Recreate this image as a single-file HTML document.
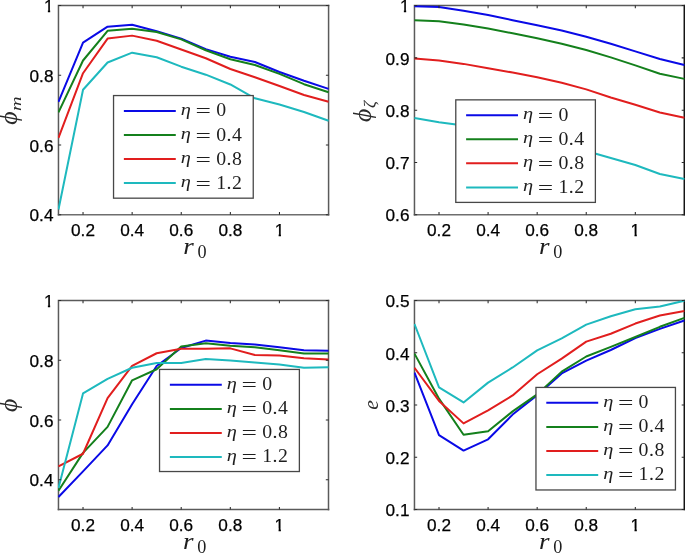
<!DOCTYPE html><html><head><meta charset="utf-8"><style>html,body{margin:0;padding:0;background:#fff;overflow:hidden}svg{display:block;filter:blur(0.35px)}.tk{font-family:"Liberation Sans",Arial,Helvetica,sans-serif;font-size:17.2px;fill:#000;stroke:#000;stroke-width:0.25px}.sf{font-family:"Liberation Serif","DejaVu Serif",serif;fill:#1e1e1e}.yl{fill:#2a2a2a}</style></head><body>
<svg width="685" height="553" viewBox="0 0 685 553">
<rect width="685" height="553" fill="#fff"/>
<defs>
<clipPath id="c1"><rect x="57.97" y="4.58" width="271.11" height="211.17"/></clipPath>
<clipPath id="c2"><rect x="413.97" y="4.58" width="270.93" height="211.17"/></clipPath>
<clipPath id="c3"><rect x="57.97" y="299.58" width="271.03" height="211"/></clipPath>
<clipPath id="c4"><rect x="413.97" y="299.58" width="270.93" height="211"/></clipPath>
</defs>
<g>
<path d="M58.47 5.58H328.58M58.47 5.58V214.75" stroke="#5a5a5a" stroke-width="1.5" fill="none" stroke-linecap="square"/>
<path d="M328.58 5.58V214.75" stroke="#5a5a5a" stroke-width="1.5" fill="none" stroke-linecap="square"/>
<path d="M58.47 214.75H328.58" stroke="#6e6e6e" stroke-width="1.5" fill="none" stroke-linecap="square"/>
<g clip-path="url(#c1)" fill="none" stroke-width="2" stroke-linejoin="round" stroke-linecap="butt">
<polyline stroke="#0a0ae6" points="58.47,101.9 83.03,42.71 107.58,26.71 132.14,24.75 156.69,31.27 181.25,38.59 205.8,49.16 230.36,56.79 254.91,61.99 279.47,71.99 304.02,80.78 328.58,88.9"/>
<polyline stroke="#14801c" points="58.47,112.33 83.03,60.49 107.58,30.78 132.14,28.8 156.69,32.07 181.25,39.4 205.8,50.27 230.36,59.27 254.91,64.98 279.47,73.91 304.02,84.19 328.58,92.28"/>
<polyline stroke="#e11e1e" points="58.47,137.78 83.03,73.21 107.58,38.59 132.14,35.63 156.69,40.69 181.25,49.51 205.8,58.29 230.36,69.03 254.91,77.19 279.47,86.04 304.02,95 328.58,101.8"/>
<polyline stroke="#1eb9be" points="58.47,209.52 83.03,89.77 107.58,62.47 132.14,52.68 156.69,57.28 181.25,66.69 205.8,74.68 230.36,84.47 254.91,98.31 279.47,104.48 304.02,111.98 328.58,120.8"/>
</g>
<path d="M83.03 214.75v-2.7M83.03 5.58v2.7M132.14 214.75v-2.7M132.14 5.58v2.7M181.25 214.75v-2.7M181.25 5.58v2.7M230.36 214.75v-2.7M230.36 5.58v2.7M279.47 214.75v-2.7M279.47 5.58v2.7M58.47 214.75h2.7M328.58 214.75h-2.7M58.47 145.03h2.7M328.58 145.03h-2.7M58.47 75.3h2.7M328.58 75.3h-2.7M58.47 5.58h2.7M328.58 5.58h-2.7" stroke="#2a2a2a" stroke-width="1.05" fill="none"/>
<text class="tk" x="83.03" y="236.05" text-anchor="middle">0.2</text>
<text class="tk" x="132.14" y="236.05" text-anchor="middle">0.4</text>
<text class="tk" x="181.25" y="236.05" text-anchor="middle">0.6</text>
<text class="tk" x="230.36" y="236.05" text-anchor="middle">0.8</text>
<text class="tk" x="279.47" y="236.05" text-anchor="middle" clip-path="url(#k0)">1</text>
<text class="tk" x="53.47" y="221.45" text-anchor="end">0.4</text>
<text class="tk" x="53.47" y="151.73" text-anchor="end">0.6</text>
<text class="tk" x="53.47" y="82" text-anchor="end">0.8</text>
<text class="tk" x="53.47" y="12.28" text-anchor="end" clip-path="url(#k1)">1</text>
<g class="sf">
<text transform="translate(183.14,254.15) scale(1.15,1)" font-size="23.5" font-style="italic">r</text>
<text transform="translate(197.4,258.25)" font-size="18.2">0</text>
<rect x="113.54" y="95.56" width="139.7" height="102.62" fill="#fff" stroke="#474747" stroke-width="1.3"/>
<line x1="123.87" y1="110.96" x2="175.78" y2="110.96" stroke="#0a0ae6" stroke-width="2"/>
<text transform="translate(180.72,114.96) scale(1.2,1)" font-size="17" font-style="italic">&#951;</text>
<text transform="translate(195.47,117.46) scale(1.44,1)" font-size="19">=</text>
<text transform="translate(216.15,116.46)" font-size="19.8" letter-spacing="0.5">0</text>
<line x1="123.87" y1="135.01" x2="175.78" y2="135.01" stroke="#14801c" stroke-width="2"/>
<text transform="translate(180.72,139.01) scale(1.2,1)" font-size="17" font-style="italic">&#951;</text>
<text transform="translate(195.47,141.51) scale(1.44,1)" font-size="19">=</text>
<text transform="translate(216.15,140.51)" font-size="19.8" letter-spacing="0.5">0.4</text>
<line x1="123.87" y1="159.06" x2="175.78" y2="159.06" stroke="#e11e1e" stroke-width="2"/>
<text transform="translate(180.72,163.06) scale(1.2,1)" font-size="17" font-style="italic">&#951;</text>
<text transform="translate(195.47,165.56) scale(1.44,1)" font-size="19">=</text>
<text transform="translate(216.15,164.56)" font-size="19.8" letter-spacing="0.5">0.8</text>
<line x1="123.87" y1="183.11" x2="175.78" y2="183.11" stroke="#1eb9be" stroke-width="2"/>
<text transform="translate(180.72,187.11) scale(1.2,1)" font-size="17" font-style="italic">&#951;</text>
<text transform="translate(195.47,189.61) scale(1.44,1)" font-size="19">=</text>
<text transform="translate(216.15,188.61)" font-size="19.8" letter-spacing="0.5">1.2</text>
</g>
</g>
<g>
<path d="M414.47 5.58H684.4M414.47 5.58V214.75" stroke="#5a5a5a" stroke-width="1.5" fill="none" stroke-linecap="square"/>
<path d="M684.4 5.58V214.75" stroke="#5a5a5a" stroke-width="1.5" fill="none" stroke-linecap="square"/>
<path d="M414.47 214.75H684.4" stroke="#6e6e6e" stroke-width="1.5" fill="none" stroke-linecap="square"/>
<rect x="683.7" y="5.08" width="1.3" height="210.17" fill="#141414"/>
<g clip-path="url(#c2)" fill="none" stroke-width="2" stroke-linejoin="round" stroke-linecap="butt">
<polyline stroke="#0a0ae6" points="414.47,6.21 439.01,6.89 463.55,10.81 488.09,14.99 512.63,20.22 537.17,25.19 561.7,30.47 586.24,36.69 610.78,43.75 635.32,51.34 659.86,58.92 684.4,64.98"/>
<polyline stroke="#14801c" points="414.47,20.22 439.01,21.27 463.55,24.41 488.09,28.59 512.63,33.3 537.17,38.21 561.7,43.75 586.24,50.03 610.78,57.35 635.32,65.4 659.86,73.72 684.4,78.89"/>
<polyline stroke="#e11e1e" points="414.47,58.4 439.01,60.49 463.55,63.89 488.09,68.33 512.63,72.51 537.17,77.22 561.7,82.71 586.24,89.4 610.78,97.51 635.32,104.83 659.86,112.52 684.4,117.8"/>
<polyline stroke="#1eb9be" points="414.47,118.11 439.01,122.19 463.55,125.59 488.09,130.04 512.63,134.22 537.17,138.93 561.7,144.42 586.24,150.95 610.78,158.01 635.32,165.02 659.86,173.96 684.4,179.09"/>
</g>
<path d="M439.01 214.75v-2.7M439.01 5.58v2.7M488.09 214.75v-2.7M488.09 5.58v2.7M537.17 214.75v-2.7M537.17 5.58v2.7M586.24 214.75v-2.7M586.24 5.58v2.7M635.32 214.75v-2.7M635.32 5.58v2.7M414.47 214.75h2.7M684.4 214.75h-2.7M414.47 162.46h2.7M684.4 162.46h-2.7M414.47 110.16h2.7M684.4 110.16h-2.7M414.47 57.87h2.7M684.4 57.87h-2.7M414.47 5.58h2.7M684.4 5.58h-2.7" stroke="#2a2a2a" stroke-width="1.05" fill="none"/>
<text class="tk" x="439.01" y="236.05" text-anchor="middle">0.2</text>
<text class="tk" x="488.09" y="236.05" text-anchor="middle">0.4</text>
<text class="tk" x="537.17" y="236.05" text-anchor="middle">0.6</text>
<text class="tk" x="586.24" y="236.05" text-anchor="middle">0.8</text>
<text class="tk" x="635.32" y="236.05" text-anchor="middle" clip-path="url(#k2)">1</text>
<text class="tk" x="409.47" y="221.45" text-anchor="end">0.6</text>
<text class="tk" x="409.47" y="169.16" text-anchor="end">0.7</text>
<text class="tk" x="409.47" y="116.86" text-anchor="end">0.8</text>
<text class="tk" x="409.47" y="64.57" text-anchor="end">0.9</text>
<text class="tk" x="409.47" y="12.28" text-anchor="end" clip-path="url(#k3)">1</text>
<g class="sf">
<text transform="translate(539.05,254.15) scale(1.15,1)" font-size="23.5" font-style="italic">r</text>
<text transform="translate(553.31,258.25)" font-size="18.2">0</text>
<rect x="455.78" y="99.86" width="139.6" height="102.54" fill="#fff" stroke="#474747" stroke-width="1.3"/>
<line x1="466.11" y1="115.26" x2="518.02" y2="115.26" stroke="#0a0ae6" stroke-width="2"/>
<text transform="translate(522.96,119.26) scale(1.2,1)" font-size="17" font-style="italic">&#951;</text>
<text transform="translate(537.71,121.76) scale(1.44,1)" font-size="19">=</text>
<text transform="translate(558.39,120.76)" font-size="19.8" letter-spacing="0.5">0</text>
<line x1="466.11" y1="139.31" x2="518.02" y2="139.31" stroke="#14801c" stroke-width="2"/>
<text transform="translate(522.96,143.31) scale(1.2,1)" font-size="17" font-style="italic">&#951;</text>
<text transform="translate(537.71,145.81) scale(1.44,1)" font-size="19">=</text>
<text transform="translate(558.39,144.81)" font-size="19.8" letter-spacing="0.5">0.4</text>
<line x1="466.11" y1="163.36" x2="518.02" y2="163.36" stroke="#e11e1e" stroke-width="2"/>
<text transform="translate(522.96,167.36) scale(1.2,1)" font-size="17" font-style="italic">&#951;</text>
<text transform="translate(537.71,169.86) scale(1.44,1)" font-size="19">=</text>
<text transform="translate(558.39,168.86)" font-size="19.8" letter-spacing="0.5">0.8</text>
<line x1="466.11" y1="187.41" x2="518.02" y2="187.41" stroke="#1eb9be" stroke-width="2"/>
<text transform="translate(522.96,191.41) scale(1.2,1)" font-size="17" font-style="italic">&#951;</text>
<text transform="translate(537.71,193.91) scale(1.44,1)" font-size="19">=</text>
<text transform="translate(558.39,192.91)" font-size="19.8" letter-spacing="0.5">1.2</text>
</g>
</g>
<g>
<path d="M58.47 300.58H328.5M58.47 300.58V509.58" stroke="#5a5a5a" stroke-width="1.5" fill="none" stroke-linecap="square"/>
<path d="M328.5 300.58V509.58" stroke="#5a5a5a" stroke-width="1.5" fill="none" stroke-linecap="square"/>
<path d="M58.47 509.58H328.5" stroke="#5a5a5a" stroke-width="1.5" fill="none" stroke-linecap="square"/>
<g clip-path="url(#c3)" fill="none" stroke-width="2" stroke-linejoin="round" stroke-linecap="butt">
<polyline stroke="#0a0ae6" points="58.47,497.04 83.02,471.36 107.57,445.39 132.11,404.18 156.66,365.97 181.21,348.05 205.76,340.59 230.31,342.98 254.86,344.47 279.4,347.16 303.95,350.14 328.5,350.74"/>
<polyline stroke="#14801c" points="58.47,490.77 83.02,452.85 107.57,426.88 132.11,380.3 156.66,369.25 181.21,346.56 205.76,343.28 230.31,345.66 254.86,347.16 279.4,350.14 303.95,353.43 328.5,353.43"/>
<polyline stroke="#e11e1e" points="58.47,466.29 83.02,453.75 107.57,398.21 132.11,365.97 156.66,353.25 181.21,348.65 205.76,348.65 230.31,348.35 254.86,354.92 279.4,355.52 303.95,358.2 328.5,359.4"/>
<polyline stroke="#1eb9be" points="58.47,488.08 83.02,393.44 107.57,378.81 132.11,367.76 156.66,362.98 181.21,362.98 205.76,359.1 230.31,360.59 254.86,362.38 279.4,364.47 303.95,367.76 328.5,367.16"/>
</g>
<path d="M83.02 509.58v-2.7M83.02 300.58v2.7M132.11 509.58v-2.7M132.11 300.58v2.7M181.21 509.58v-2.7M181.21 300.58v2.7M230.31 509.58v-2.7M230.31 300.58v2.7M279.4 509.58v-2.7M279.4 300.58v2.7M58.47 479.72h2.7M328.5 479.72h-2.7M58.47 420.01h2.7M328.5 420.01h-2.7M58.47 360.29h2.7M328.5 360.29h-2.7M58.47 300.58h2.7M328.5 300.58h-2.7" stroke="#2a2a2a" stroke-width="1.05" fill="none"/>
<text class="tk" x="83.02" y="530.88" text-anchor="middle">0.2</text>
<text class="tk" x="132.11" y="530.88" text-anchor="middle">0.4</text>
<text class="tk" x="181.21" y="530.88" text-anchor="middle">0.6</text>
<text class="tk" x="230.31" y="530.88" text-anchor="middle">0.8</text>
<text class="tk" x="279.4" y="530.88" text-anchor="middle" clip-path="url(#k4)">1</text>
<text class="tk" x="53.47" y="486.42" text-anchor="end">0.4</text>
<text class="tk" x="53.47" y="426.71" text-anchor="end">0.6</text>
<text class="tk" x="53.47" y="366.99" text-anchor="end">0.8</text>
<text class="tk" x="53.47" y="307.28" text-anchor="end" clip-path="url(#k5)">1</text>
<g class="sf">
<text transform="translate(183.1,548.98) scale(1.15,1)" font-size="23.5" font-style="italic">r</text>
<text transform="translate(197.36,553.08)" font-size="18.2">0</text>
<rect x="159.54" y="369.43" width="139.84" height="102.1" fill="#fff" stroke="#474747" stroke-width="1.3"/>
<line x1="169.87" y1="384.83" x2="221.78" y2="384.83" stroke="#0a0ae6" stroke-width="2"/>
<text transform="translate(226.72,388.83) scale(1.2,1)" font-size="17" font-style="italic">&#951;</text>
<text transform="translate(241.47,391.33) scale(1.44,1)" font-size="19">=</text>
<text transform="translate(262.15,390.33)" font-size="19.8" letter-spacing="0.5">0</text>
<line x1="169.87" y1="408.88" x2="221.78" y2="408.88" stroke="#14801c" stroke-width="2"/>
<text transform="translate(226.72,412.88) scale(1.2,1)" font-size="17" font-style="italic">&#951;</text>
<text transform="translate(241.47,415.38) scale(1.44,1)" font-size="19">=</text>
<text transform="translate(262.15,414.38)" font-size="19.8" letter-spacing="0.5">0.4</text>
<line x1="169.87" y1="432.93" x2="221.78" y2="432.93" stroke="#e11e1e" stroke-width="2"/>
<text transform="translate(226.72,436.93) scale(1.2,1)" font-size="17" font-style="italic">&#951;</text>
<text transform="translate(241.47,439.43) scale(1.44,1)" font-size="19">=</text>
<text transform="translate(262.15,438.43)" font-size="19.8" letter-spacing="0.5">0.8</text>
<line x1="169.87" y1="456.98" x2="221.78" y2="456.98" stroke="#1eb9be" stroke-width="2"/>
<text transform="translate(226.72,460.98) scale(1.2,1)" font-size="17" font-style="italic">&#951;</text>
<text transform="translate(241.47,463.48) scale(1.44,1)" font-size="19">=</text>
<text transform="translate(262.15,462.48)" font-size="19.8" letter-spacing="0.5">1.2</text>
</g>
</g>
<g>
<path d="M414.47 300.58H684.4M414.47 300.58V509.58" stroke="#5a5a5a" stroke-width="1.5" fill="none" stroke-linecap="square"/>
<path d="M684.4 300.58V509.58" stroke="#5a5a5a" stroke-width="1.5" fill="none" stroke-linecap="square"/>
<path d="M414.47 509.58H684.4" stroke="#5a5a5a" stroke-width="1.5" fill="none" stroke-linecap="square"/>
<rect x="683.7" y="300.08" width="1.3" height="210" fill="#141414"/>
<g clip-path="url(#c4)" fill="none" stroke-width="2" stroke-linejoin="round" stroke-linecap="butt">
<polyline stroke="#0a0ae6" points="414.47,372.53 439.01,435.12 463.55,450.54 488.09,439.3 512.63,414.59 537.17,395.15 561.7,373.47 586.24,360.67 610.78,350.01 635.32,338.04 659.86,328.9 684.4,320.44"/>
<polyline stroke="#14801c" points="414.47,353.61 439.01,398.65 463.55,434.71 488.09,431.2 512.63,411.4 537.17,394.37 561.7,371.64 586.24,356.49 610.78,346.93 635.32,336.95 659.86,326.81 684.4,317.93"/>
<polyline stroke="#e11e1e" points="414.47,367.72 439.01,400.9 463.55,423.37 488.09,410.31 512.63,395.47 537.17,374.25 561.7,358.58 586.24,341.6 610.78,333.71 635.32,323.57 659.86,315.52 684.4,311.03"/>
<polyline stroke="#1eb9be" points="414.47,323.99 439.01,387.31 463.55,402.47 488.09,382.61 512.63,367.46 537.17,350.37 561.7,338.41 586.24,324.62 610.78,316.25 635.32,309.2 659.86,306.59 684.4,300.84"/>
</g>
<path d="M439.01 509.58v-2.7M439.01 300.58v2.7M488.09 509.58v-2.7M488.09 300.58v2.7M537.17 509.58v-2.7M537.17 300.58v2.7M586.24 509.58v-2.7M586.24 300.58v2.7M635.32 509.58v-2.7M635.32 300.58v2.7M414.47 509.58h2.7M684.4 509.58h-2.7M414.47 457.33h2.7M684.4 457.33h-2.7M414.47 405.08h2.7M684.4 405.08h-2.7M414.47 352.83h2.7M684.4 352.83h-2.7M414.47 300.58h2.7M684.4 300.58h-2.7" stroke="#2a2a2a" stroke-width="1.05" fill="none"/>
<text class="tk" x="439.01" y="530.88" text-anchor="middle">0.2</text>
<text class="tk" x="488.09" y="530.88" text-anchor="middle">0.4</text>
<text class="tk" x="537.17" y="530.88" text-anchor="middle">0.6</text>
<text class="tk" x="586.24" y="530.88" text-anchor="middle">0.8</text>
<text class="tk" x="635.32" y="530.88" text-anchor="middle" clip-path="url(#k6)">1</text>
<text class="tk" x="409.47" y="516.28" text-anchor="end">0.1</text>
<text class="tk" x="409.47" y="464.03" text-anchor="end">0.2</text>
<text class="tk" x="409.47" y="411.78" text-anchor="end">0.3</text>
<text class="tk" x="409.47" y="359.53" text-anchor="end">0.4</text>
<text class="tk" x="409.47" y="307.28" text-anchor="end">0.5</text>
<g class="sf">
<text transform="translate(539.05,548.98) scale(1.15,1)" font-size="23.5" font-style="italic">r</text>
<text transform="translate(553.31,553.08)" font-size="18.2">0</text>
<rect x="535.96" y="387.43" width="139.48" height="102.54" fill="#fff" stroke="#474747" stroke-width="1.3"/>
<line x1="546.29" y1="402.83" x2="598.2" y2="402.83" stroke="#0a0ae6" stroke-width="2"/>
<text transform="translate(603.14,406.83) scale(1.2,1)" font-size="17" font-style="italic">&#951;</text>
<text transform="translate(617.89,409.33) scale(1.44,1)" font-size="19">=</text>
<text transform="translate(638.57,408.33)" font-size="19.8" letter-spacing="0.5">0</text>
<line x1="546.29" y1="426.88" x2="598.2" y2="426.88" stroke="#14801c" stroke-width="2"/>
<text transform="translate(603.14,430.88) scale(1.2,1)" font-size="17" font-style="italic">&#951;</text>
<text transform="translate(617.89,433.38) scale(1.44,1)" font-size="19">=</text>
<text transform="translate(638.57,432.38)" font-size="19.8" letter-spacing="0.5">0.4</text>
<line x1="546.29" y1="450.93" x2="598.2" y2="450.93" stroke="#e11e1e" stroke-width="2"/>
<text transform="translate(603.14,454.93) scale(1.2,1)" font-size="17" font-style="italic">&#951;</text>
<text transform="translate(617.89,457.43) scale(1.44,1)" font-size="19">=</text>
<text transform="translate(638.57,456.43)" font-size="19.8" letter-spacing="0.5">0.8</text>
<line x1="546.29" y1="474.98" x2="598.2" y2="474.98" stroke="#1eb9be" stroke-width="2"/>
<text transform="translate(603.14,478.98) scale(1.2,1)" font-size="17" font-style="italic">&#951;</text>
<text transform="translate(617.89,481.48) scale(1.44,1)" font-size="19">=</text>
<text transform="translate(638.57,480.48)" font-size="19.8" letter-spacing="0.5">1.2</text>
</g>
</g>
<g class="sf yl">
<text transform="translate(16.5,124.82) rotate(-90) scale(1.06,1)" font-size="24.3" font-style="italic">&#981;</text>
<text transform="translate(20.6,111.01) rotate(-90) scale(1.3,1)" font-size="15.5" font-style="italic">m</text>
<text transform="translate(371,122.12) rotate(-90) scale(1.06,1)" font-size="24.3" font-style="italic">&#981;</text>
<text transform="translate(374.7,108.12) rotate(-90)" font-size="17.2" font-style="italic">&#950;</text>
<text transform="translate(16.8,412.02) rotate(-90) scale(1.06,1)" font-size="24.3" font-style="italic">&#981;</text>
<text transform="translate(377.5,409.85) rotate(-90)" font-size="21.7" font-style="italic">e</text>
</g>
<defs><clipPath id="k0"><rect x="272.69" y="222.29" width="17.2" height="11.44"/><rect x="278.64" y="232.61" width="2.32" height="4.44"/></clipPath><clipPath id="k1"><rect x="41.91" y="-1.48" width="17.2" height="11.44"/><rect x="47.86" y="8.84" width="2.32" height="4.44"/></clipPath><clipPath id="k2"><rect x="628.54" y="222.29" width="17.2" height="11.44"/><rect x="634.5" y="232.61" width="2.32" height="4.44"/></clipPath><clipPath id="k3"><rect x="397.91" y="-1.48" width="17.2" height="11.44"/><rect x="403.86" y="8.84" width="2.32" height="4.44"/></clipPath><clipPath id="k4"><rect x="272.62" y="517.12" width="17.2" height="11.44"/><rect x="278.58" y="527.44" width="2.32" height="4.44"/></clipPath><clipPath id="k5"><rect x="41.91" y="293.52" width="17.2" height="11.44"/><rect x="47.86" y="303.84" width="2.32" height="4.44"/></clipPath><clipPath id="k6"><rect x="628.54" y="517.12" width="17.2" height="11.44"/><rect x="634.5" y="527.44" width="2.32" height="4.44"/></clipPath></defs>
</svg></body></html>
